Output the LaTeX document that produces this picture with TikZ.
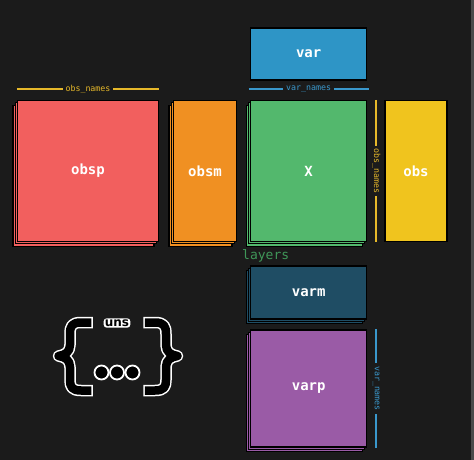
\documentclass[tikz,border=0pt]{standalone}
\usepackage{fontspec}
\setmonofont{DejaVu Sans Mono}
\setsansfont{DejaVu Sans}
\usepackage{tikz}
\usetikzlibrary{positioning}

\definecolor{bgdark}{HTML}{1B1B1B}
\definecolor{edgegray}{HTML}{4A4A4A}
\definecolor{obspcol}{HTML}{F25F5E}
\definecolor{obsmcol}{HTML}{F09022}
\definecolor{xcol}{HTML}{53B86D}
\definecolor{obscol}{HTML}{F0C41E}
\definecolor{varcol}{HTML}{2E95C6}
\definecolor{varmcol}{HTML}{1F4D64}
\definecolor{varpcol}{HTML}{9A5BA6}
\definecolor{obsname}{HTML}{E6B82A}
\definecolor{varname}{HTML}{3A98CC}
\definecolor{layerscol}{HTML}{3F9658}

\tikzset{
  panel/.style={draw=black, line width=1.2pt, inner sep=0pt, text=white,
    font=\ttfamily\bfseries\fontsize{14}{16}\selectfont},
  namebar/.style={line width=2pt},
  namelabel/.style={fill=bgdark, inner sep=3pt, font=\ttfamily\fontsize{8.3}{9}\selectfont},
  dot/.style={circle, draw=white, fill=black, line width=1.8pt, minimum size=14pt, inner sep=0pt},
}

\begin{document}
\begin{tikzpicture}[x=1pt, y=-1pt]

\def \boxh{141pt}
\def \colw{116pt}
\def \lay{2.3}

% background
\fill[bgdark] (0,0) rectangle (474,460);
\fill[edgegray] (471,0) rectangle (474,460);
\useasboundingbox (0,0) rectangle (474,460);

% layers behind the stacked panels
\foreach \cx/\cy/\w/\h/\col in {88/171/141/141/obspcol, 205/171/63/141/obsmcol,
    308.7/171/116/141/xcol, 308.7/292.5/116/53/varmcol, 308.7/388.5/116/117/varpcol}
  \foreach \k in {2,1}
    \node[panel, fill=\col, minimum width=\w pt, minimum height=\h pt] at (\cx-\lay*\k, \cy+\lay*\k) {};

% front panels
\node[panel, fill=obspcol, minimum width=141pt, minimum height=\boxh] (obsp) at (88,171) {obsp};
\node[panel, fill=obsmcol, minimum width=63pt, minimum height=\boxh] (obsm) at (205,171) {obsm};
\node[panel, fill=xcol, minimum width=\colw, minimum height=\boxh] (X) at (308.7,171) {X};
\node[panel, fill=obscol, minimum width=62pt, minimum height=\boxh] (obs) at (416,171) {obs};
\node[panel, fill=varcol, minimum width=\colw, minimum height=52pt] (var) at (308.7,54) {var};
\node[panel, fill=varmcol, minimum width=\colw, minimum height=53pt] (varm) at (308.7,292.5) {varm};
\node[panel, fill=varpcol, minimum width=\colw, minimum height=117pt] (varp) at (308.7,388.5) {varp};

\node[anchor=west, inner sep=0pt, text=layerscol, font=\ttfamily\fontsize{13}{14}\selectfont] (layers) at (242,256) {layers};

% name bars
\draw[namebar, obsname] ([yshift=10.5pt]obsp.north west) -- ([yshift=10.5pt]obsp.north east)
  node[namelabel, midway, text=obsname] {obs\_names};
\draw[namebar, varname] ([yshift=10.5pt, xshift=-1.5pt]X.north west) -- ([yshift=10.5pt, xshift=1.5pt]X.north east)
  node[namelabel, midway, text=varname] {var\_names};
\draw[namebar, obsname] ([xshift=9pt]X.north east) -- ([xshift=9pt]X.south east)
  node[namelabel, midway, rotate=-90, text=obsname] {obs\_names};
\draw[namebar, varname] ([xshift=9pt]varp.north east) -- ([xshift=9pt]varp.south east)
  node[namelabel, midway, rotate=-90, text=varname] {var\_names};

% uns
\def \bracepath{(87,322.5) -- (81,322.5) .. controls (72,322.5) and (70,326) .. (70,334) -- (70,345)
  .. controls (70,352) and (65,355) .. (58.5,356) .. controls (65,357) and (70,360) .. (70,367)
  -- (70,380) .. controls (70,387) and (72,390.5) .. (81,390.5) -- (87,390.5)}
\draw[white, line width=11.5pt, line cap=rect, line join=round] \bracepath;
\draw[black, line width=8.5pt, line cap=rect, line join=round] \bracepath;
\begin{scope}[shift={(236,0)}, xscale=-1]
  \draw[white, line width=11.5pt, line cap=rect, line join=round] \bracepath;
  \draw[black, line width=8.5pt, line cap=rect, line join=round] \bracepath;
\end{scope}

\node[fill=white, rounded corners=3pt, text=black, inner sep=1.2pt,
  font=\sffamily\bfseries\fontsize{12}{12}\selectfont] (uns) at (117,323) {uns};
\node[dot] (dota) at (101.5,372.5) {};
\node[dot] (dotb) at (117,372.5) {};
\node[dot] (dotc) at (132.5,372.5) {};

\end{tikzpicture}
\end{document}
